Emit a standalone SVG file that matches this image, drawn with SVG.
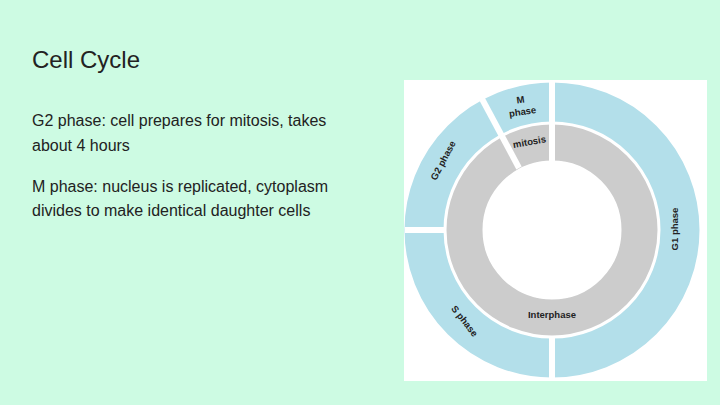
<svg xmlns="http://www.w3.org/2000/svg" width="720" height="405" viewBox="0 0 720 405">
<style>
.t{font-family:"Liberation Sans",Arial,sans-serif;fill:#222}
.b{font-size:16px}
.l{font-family:"Liberation Sans",Arial,sans-serif;font-size:9.5px;font-weight:bold;fill:#222}
.g{stroke:#fff;stroke-width:6}
</style>
<rect width="720" height="405" fill="#cdfbe3"/>
<text class="t" x="32" y="68" font-size="24">Cell Cycle</text>
<text class="t b" x="32" y="126">G2 phase: cell prepares for mitosis, takes</text>
<text class="t b" x="32" y="151">about 4 hours</text>
<text class="t b" x="32" y="192">M phase: nucleus is replicated, cytoplasm</text>
<text class="t b" x="32" y="216">divides to make identical daughter cells</text>
<g id="diagram">
<rect x="404" y="80" width="303" height="301" fill="#fff"/>
<circle cx="552" cy="230" r="128" fill="none" stroke="#b3dfea" stroke-width="39"/>
<circle cx="552" cy="230" r="87.5" fill="none" stroke="#cccccc" stroke-width="36"/>
<line class="g" x1="552" y1="81" x2="552" y2="230"/>
<line class="g" x1="552" y1="336" x2="552" y2="380"/>
<circle cx="552" cy="230" r="69" fill="#fff"/>
<line class="g" x1="405" y1="230" x2="444" y2="230"/>
<line class="g" x1="519" y1="168" x2="481" y2="97"/>
<text class="l" x="678" y="229" text-anchor="middle" transform="rotate(-90 678 229)">G1 phase</text>
<text class="l" x="462" y="323" text-anchor="middle" transform="rotate(52 462 323)">S phase</text>
<text class="l" x="446" y="162" text-anchor="middle" transform="rotate(-62 446 162)">G2 phase</text>
<text class="l" x="521" y="103" text-anchor="middle" transform="rotate(-8 521 103)">M</text>
<text class="l" x="523" y="115" text-anchor="middle" transform="rotate(-8 523 115)">phase</text>
<text class="l" x="530" y="145" text-anchor="middle" transform="rotate(-10 530 145)">mitosis</text>
<text class="l" x="552" y="318" text-anchor="middle">Interphase</text>
</g>
</svg>
